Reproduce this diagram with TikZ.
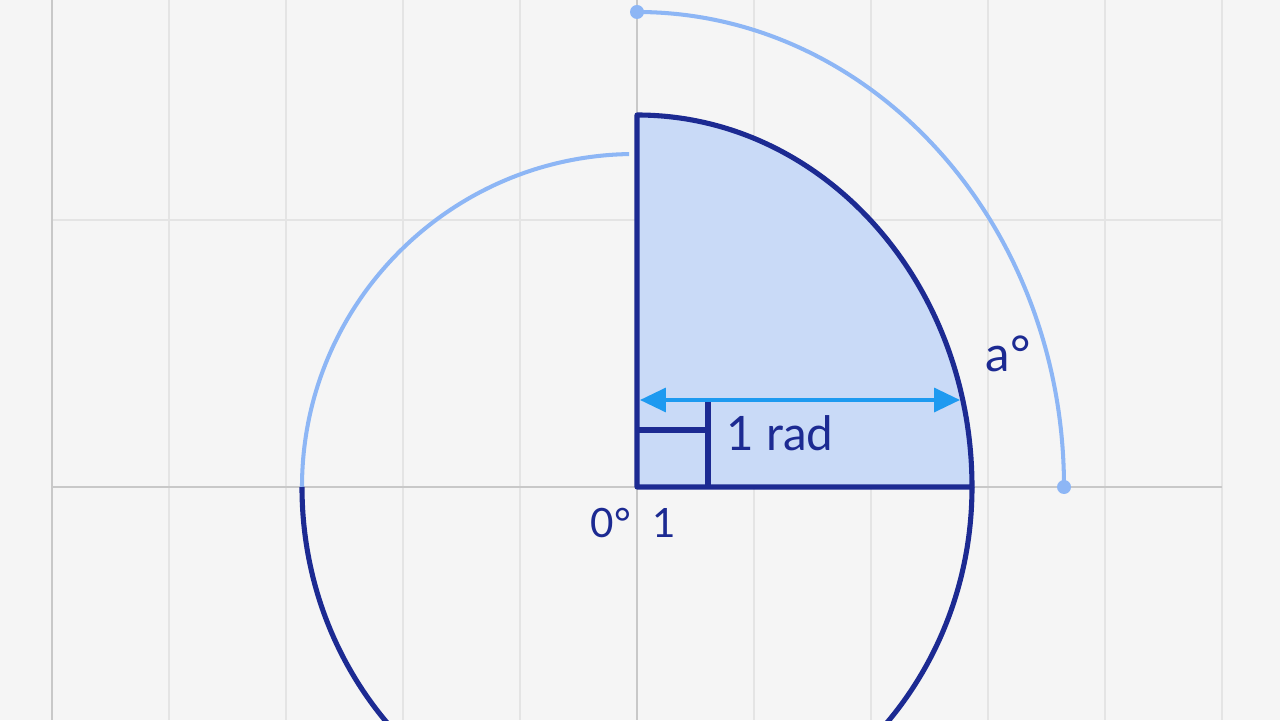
\documentclass[tikz,border=0pt]{standalone}
\usepackage{fontspec}
\setmainfont{Lato}
\usetikzlibrary{arrows.meta}

\definecolor{navy}{HTML}{1C2A92}
\definecolor{sky}{HTML}{8DB6F5}
\definecolor{wedge}{HTML}{C9DAF7}
\definecolor{radarrow}{HTML}{1E9AF0}
\definecolor{gridgray}{HTML}{E4E4E4}
\definecolor{axisgray}{HTML}{C8C8C8}
\definecolor{paper}{HTML}{F5F5F5}

\begin{document}
\begin{tikzpicture}[x=0.02cm,y=0.02cm]

%fondo
\fill[paper] (-637,-233) rectangle (643,487);
\useasboundingbox (-637,-233) rectangle (643,487);

%griglia
\foreach \k in {-4,...,-1,1,2,...,5}
  \draw[gridgray,line width=1pt] (117*\k,487) -- (117*\k,-233);
\draw[gridgray,line width=1pt] (-585,267) -- (585,267);
\draw[axisgray,line width=1.6pt] (-585,487) -- (-585,-233);
\draw[axisgray,line width=1.4pt] (-585,0) -- (585,0);
\draw[axisgray,line width=1.4pt] (0,487) -- (0,-233);

%cerchio
\draw[sky,line width=2.3pt] (-335,0) arc[start angle=180,end angle=91,radius=333];
\draw[navy,line width=2.9pt] (-335,0) arc[start angle=180,end angle=360,x radius=335,y radius=354];

%settore
\filldraw[fill=wedge,draw=navy,line width=2.9pt,line join=round] (0,0) -- (0,372) arc[start angle=90,end angle=0,x radius=335,y radius=372] -- cycle;
\draw[navy,line width=2.9pt] (71,0) -- (71,87);
\draw[navy,line width=2.9pt] (0,57) -- (71,57);

%arco esterno
\coordinate (arcstart) at (0,475);
\coordinate (arcend) at (427,0);
\draw[sky,line width=2.3pt] (arcstart) arc[start angle=90,end angle=0,x radius=427,y radius=475];
\fill[sky] (arcstart) circle (7);
\fill[sky] (arcend) circle (7);

%freccia
\coordinate (radleft) at (3,87);
\coordinate (radright) at (323,87);
\draw[radarrow,line width=2pt,{Triangle[length=5.2mm,width=4.8mm]}-{Triangle[length=5.2mm,width=4.8mm]}] (radleft) -- (radright);

\node[text=navy,anchor=base,font=\fontsize{27}{27}\selectfont] (radlabel) at (143,37) {1 rad};
\node[text=navy,anchor=base,font=\fontsize{23}{23}\selectfont] (zerolabel) at (-26,-50) {0°};
\node[text=navy,anchor=base,font=\fontsize{23}{23}\selectfont] (onelabel) at (27,-50) {1};
\node[text=navy,anchor=base,font=\fontsize{28}{28}\selectfont] (alabel) at (371,115) {a°};

\end{tikzpicture}
\end{document}
